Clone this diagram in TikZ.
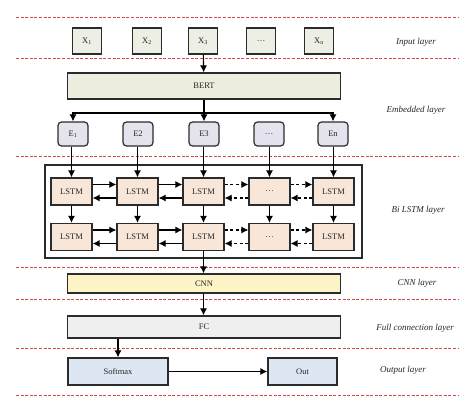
\documentclass[tikz,border=0pt]{standalone}
\usepackage{fontspec}
\setmainfont{Liberation Serif}
\usetikzlibrary{arrows.meta, calc, positioning}
\definecolor{ColorSep}{HTML}{D9474B}
\definecolor{ColorIn}{HTML}{EEEFE4}
\definecolor{ColorBert}{HTML}{EDEEE0}
\definecolor{ColorEmb}{HTML}{E5E4EE}
\definecolor{ColorLstm}{HTML}{F8E7D9}
\definecolor{ColorCnn}{HTML}{FCF3C6}
\definecolor{ColorFc}{HTML}{EFEFEF}
\definecolor{ColorOut}{HTML}{DCE7F3}
\definecolor{ColorLine}{HTML}{2B2B2B}

\begin{document}
\begin{tikzpicture}[
x=1pt, y=-1pt,
box/.style={
	rectangle,
	draw=ColorLine,
	line width=1.2pt,
	inner sep=0pt,
	align=center,
	font=\fontsize{8.5}{10}\selectfont,
	text=black!85},
inbox/.style={
	box,
	fill=ColorIn,
	minimum width=29pt,
	minimum height=26pt},
embox/.style={
	box,
	fill=ColorEmb,
	rounded corners=3.5pt,
	minimum width=30pt,
	minimum height=24pt},
lstm/.style={
	box,
	fill=ColorLstm,
	minimum width=41pt,
	minimum height=27pt},
wide/.style={
	box,
	minimum width=273pt},
post/.style={
	->,
	draw,
	>={Latex[length=7pt,width=7pt]},
	line width=1.1pt,
	color=black},
postdash/.style={
	post,
	dash pattern=on 3pt off 2.5pt},
sep/.style={
	draw=ColorSep,
	line width=0.8pt,
	dash pattern=on 3pt off 1.6pt},
layer/.style={
	font=\fontsize{9}{11}\selectfont\itshape,
	text=black!85}]

\useasboundingbox (0,0) rectangle (474,412);

%Separators
\foreach \y in {17,58,156,267,299,348,395}{
	\draw[sep] (16,\y) -- (458,\y);
}

%Input layer
\foreach \x/\n/\t in {87/1/X\textsubscript{1}, 147/2/X\textsubscript{2}, 203/3/X\textsubscript{3}, 261/4/\dots, 319/5/X\textsubscript{n}}{
	\node[inbox] (X\n) at (\x,41) {\t};
}

\node[box, wide, fill=ColorBert, minimum height=26pt] (BERT) at (204,86) {BERT};

%Embedded layer
\foreach \x/\n/\t in {73/1/E\textsubscript{1}, 138/2/E2, 204/3/E3, 269/4/\dots, 333/5/En}{
	\node[embox] (E\n) at (\x,134) {\t};
}

\path[post] (X3) -- (BERT);
\coordinate (split) at (204,113);
\path[post] (BERT.south -| split) -- (E3);
\path[post] (split) -| (E1);
\path[post] (split) -| (E5);

%Bi LSTM
\node[box, minimum width=317pt, minimum height=93pt] (BiLSTM) at (203.5,211.5) {};

\foreach \x/\n/\t in {71.5/1/LSTM, 137.5/2/LSTM, 203.5/3/LSTM, 269.5/4/\dots, 333.5/5/LSTM}{
	\node[lstm] (La\n) at (\x,191.5) {\t};
	\node[lstm] (Lb\n) at (\x,237) {\t};
	\path[post] (E\n.south -| La\n) -- (La\n);
	\path[post] (La\n) -- (Lb\n);
}

\foreach \a/\b/\s in {1/2/post, 2/3/post, 3/4/postdash, 4/5/postdash}{
	\foreach \r in {a,b}{
		\path[\s] ([yshift=7pt]L\r\a.east) -- ([yshift=7pt]L\r\b.west);
		\path[\s] ([yshift=-6.5pt]L\r\b.west) -- ([yshift=-6.5pt]L\r\a.east);
	}
}

%CNN, FC, Output
\node[box, wide, fill=ColorCnn, minimum height=19pt] (CNN) at (204,283.5) {CNN};
\node[box, wide, fill=ColorFc, minimum height=22pt] (FC) at (204,327) {FC};
\node[box, fill=ColorOut, minimum width=100pt, minimum height=27pt] (Softmax) at (118,371.5) {Softmax};
\node[box, fill=ColorOut, minimum width=69pt, minimum height=27pt] (Out) at (302.5,371.5) {Out};

\path[post] (Lb3) -- (CNN.north -| Lb3);
\path[post] (CNN.south -| Lb3) -- (FC.north -| Lb3);
\path[post] (FC.south -| Softmax) -- (Softmax);
\path[post] (Softmax) -- (Out);

%Layer names
\node[layer] (lin) at (416,42) {Input layer};
\node[layer] (lemb) at (416,110) {Embedded layer};
\node[layer] (llstm) at (418,210) {Bi LSTM layer};
\node[layer] (lcnn) at (417,283) {CNN layer};
\node[layer] (lfc) at (415,328) {Full connection layer};
\node[layer] (lout) at (403,370) {Output layer};
\end{tikzpicture}
\end{document}
